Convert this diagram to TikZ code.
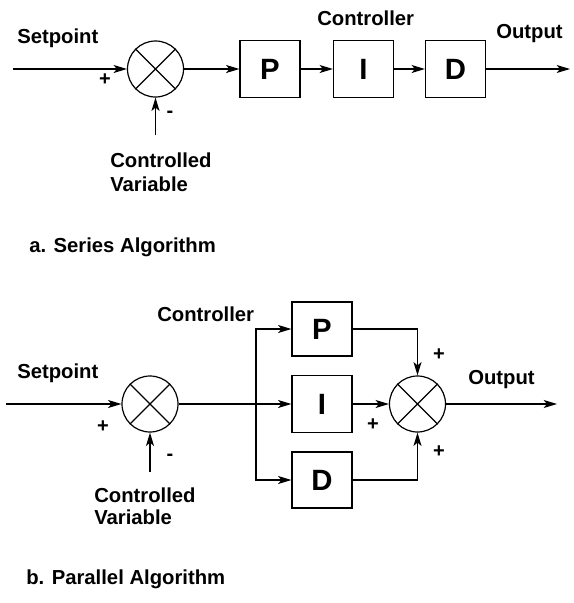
\documentclass[tikz,border=0pt]{standalone}
\usepackage{fontspec}
\setmainfont{Liberation Sans}
\usetikzlibrary{arrows.meta}

\tikzset{
  sumnode/.style={draw, circle, line width=0.9pt, minimum size=42pt, inner sep=0pt},
  blockbox/.style={draw, line width=0.9pt, minimum width=45pt, minimum height=43pt, inner sep=0pt,
    font=\fontsize{22}{25}\selectfont\bfseries},
  lbl/.style={inner sep=0pt, anchor=base west, font=\fontsize{15.2}{18}\selectfont\bfseries},
  sgn/.style={inner sep=0pt, font=\fontsize{15}{17}\selectfont\bfseries},
  arr/.style={line width=0.9pt, -{Stealth[length=10pt, width=6pt, inset=2.5pt]}},
  ln/.style={line width=0.9pt}
}

\begin{document}
\begin{tikzpicture}[x=0.75pt,y=0.75pt,yscale=-1,xscale=1]
    \path (0,0) rectangle (574,603); %set diagram size

    %%% a. Series Algorithm
    %Shape: Summing junction
    \node [sumnode] (sumA) at (155.5,69) {};
    \draw [ln] (sumA.45) -- (sumA.225) (sumA.135) -- (sumA.315);
    %Shape: Blocks
    \node [blockbox] (pA) at (270,69) {P};
    \node [blockbox] (iA) at (363.5,69) {I};
    \node [blockbox] (dA) at (455.5,69) {D};

    \coordinate (inA) at (13,69);
    \coordinate (fbA) at (155.5,135);
    \coordinate (outA) at (570,69);

    %Connectors
    \draw [arr] (inA) -- (sumA);
    \draw [arr] (fbA) -- (sumA);
    \draw [arr] (sumA) -- (pA);
    \draw [arr] (pA) -- (iA);
    \draw [arr] (iA) -- (dA);
    \draw [arr] (dA) -- (outA);

    % Text Node
    \node [lbl] (setA) at (17,43) {Setpoint};
    \node [lbl] (ctrlA) at (317,25) {Controller};
    \node [lbl] (outtxtA) at (496,38) {Output};
    \node [lbl] (cvA) at (110,167) {Controlled};
    \node [lbl] (varA) at (110,191) {Variable};
    \node [sgn] (plusA) at (105,80) {+};
    \node [sgn] (minusA) at (170,114) {-};
    \node [lbl] (capA) at (29,252) {a. Series Algorithm};

    %%% b. Parallel Algorithm
    %Shape: Summing junctions
    \node [sumnode] (sumB) at (150,404) {};
    \draw [ln] (sumB.45) -- (sumB.225) (sumB.135) -- (sumB.315);
    \node [sumnode] (addB) at (417.5,404) {};
    \draw [ln] (addB.45) -- (addB.225) (addB.135) -- (addB.315);
    %Shape: Blocks
    \node [blockbox, minimum height=40.5pt] (pB) at (322,329) {P};
    \node [blockbox] (iB) at (322,404) {I};
    \node [blockbox, minimum height=42pt] (dB) at (322,480) {D};

    \coordinate (inB) at (6,404);
    \coordinate (fbB) at (150,472);
    \coordinate (brB) at (256,404);
    \coordinate (outB) at (557,404);

    %Connectors
    \draw [arr] (inB) -- (sumB);
    \draw [arr] (fbB) -- (sumB);
    \draw [ln] (sumB) -- (brB);
    \draw [arr] (brB) |- (pB);
    \draw [arr] (brB) -- (iB);
    \draw [arr] (brB) |- (dB);
    \draw [arr] (pB) -| (addB);
    \draw [arr] (iB) -- (addB);
    \draw [arr] (dB) -| (addB);
    \draw [arr] (addB) -- (outB);

    % Text Node
    \node [lbl] (ctrlB) at (157,321) {Controller};
    \node [lbl] (setB) at (17,378) {Setpoint};
    \node [lbl] (outtxtB) at (468,384) {Output};
    \node [lbl] (cvB) at (94,502) {Controlled};
    \node [lbl] (varB) at (94,524) {Variable};
    \node [sgn] (plusB) at (103,427) {+};
    \node [sgn] (minusB) at (170,457) {-};
    \node [sgn] (plusP) at (439,355) {+};
    \node [sgn] (plusI) at (373,425) {+};
    \node [sgn] (plusD) at (439,452) {+};
    \node [lbl] (capB) at (26,584) {b. Parallel Algorithm};

\end{tikzpicture}
\end{document}
